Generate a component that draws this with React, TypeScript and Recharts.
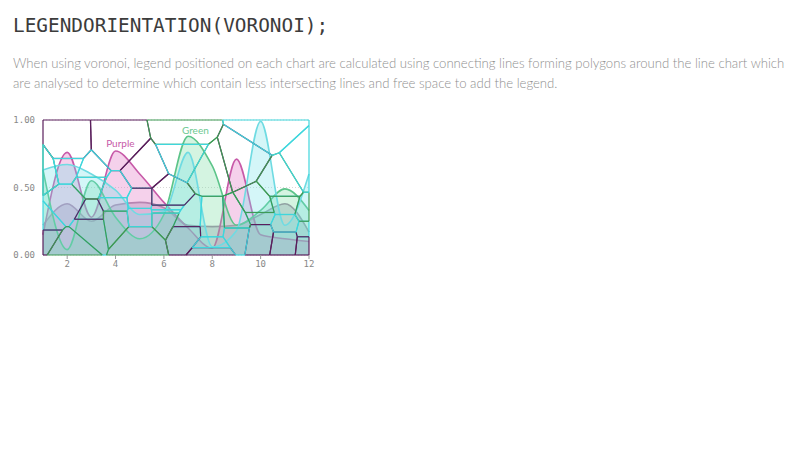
import React from 'react';
import { ComposedChart, Area, XAxis, YAxis, CartesianGrid, ReferenceLine, ReferenceDot } from 'recharts';

const xValues = [1, 2, 3, 4, 5, 6, 7, 8, 9, 10, 11, 12];
const purpleValues = [0.15, 0.76, 0.28, 0.77, 0.60, 0.39, 0.20, 0.05, 0.71, 0.15, 0.12, 0.10];
const greenValues = [0.63, 0.04, 0.55, 0.28, 0.12, 0.30, 0.88, 0.66, 0.22, 0.33, 0.49, 0.33];
const cyanValues = [0.63, 0.67, 0.60, 0.48, 0.30, 0.32, 0.76, 0.06, 0.18, 0.99, 0.22, 0.60];
const mauveValues = [0.22, 0.38, 0.25, 0.37, 0.39, 0.35, 0.22, 0.21, 0.22, 0.30, 0.38, 0.17];
const xTicks = [2, 4, 6, 8, 10, 12];
const yTicks = [0, 0.5, 1];

const series = [
  { key: 'mauve', values: mauveValues, line: '#a08aa6', fill: '#8c8aa8', fillOpacity: 0.35, edge: '#3fd6dc' },
  { key: 'purple', values: purpleValues, line: '#c75aa8', fill: '#e27cc6', fillOpacity: 0.35, edge: '#5a1f5c' },
  { key: 'green', values: greenValues, line: '#5cc489', fill: '#6fdc9c', fillOpacity: 0.3, edge: '#3e9a55' },
  { key: 'cyan', values: cyanValues, line: '#6fdbe2', fill: '#6fe0e8', fillOpacity: 0.3, edge: '#3fd6dc' },
];

const data = xValues.map((x, i) => {
  const row: any = { x };
  series.forEach((s) => { row[s.key] = s.values[i]; });
  return row;
});

// Voronoi of all data points, computed in a pixel-like aspect (x unit : y unit)
const ASPECT_X = 24.18;
const ASPECT_Y = 135;
type P = { x: number; y: number };

function clip(poly: P[], a: number, b: number, c: number): P[] {
  const out: P[] = [];
  for (let i = 0; i < poly.length; i++) {
    const p = poly[i];
    const q = poly[(i + 1) % poly.length];
    const dp = a * p.x + b * p.y - c;
    const dq = a * q.x + b * q.y - c;
    if (dp <= 0) out.push(p);
    if ((dp < 0 && dq > 0) || (dp > 0 && dq < 0)) {
      const t = dp / (dp - dq);
      out.push({ x: p.x + t * (q.x - p.x), y: p.y + t * (q.y - p.y) });
    }
  }
  return out;
}

const sites = series.flatMap((s) =>
  xValues.map((x, i) => ({ X: x * ASPECT_X, Y: s.values[i] * ASPECT_Y, color: s.edge }))
);

const edges: { a: P; b: P; color: string }[] = [];
sites.forEach((s, si) => {
  let poly: P[] = [
    { x: 1 * ASPECT_X, y: 0 },
    { x: 12 * ASPECT_X, y: 0 },
    { x: 12 * ASPECT_X, y: 1 * ASPECT_Y },
    { x: 1 * ASPECT_X, y: 1 * ASPECT_Y },
  ];
  sites.forEach((o, oi) => {
    if (oi === si) return;
    if (o.X === s.X && o.Y === s.Y) return;
    const a = 2 * (o.X - s.X);
    const b = 2 * (o.Y - s.Y);
    const c = o.X * o.X + o.Y * o.Y - s.X * s.X - s.Y * s.Y;
    poly = clip(poly, a, b, c);
  });
  for (let i = 0; i < poly.length; i++) {
    const p = poly[i];
    const q = poly[(i + 1) % poly.length];
    if (Math.abs(p.x - q.x) < 1e-6 && Math.abs(p.y - q.y) < 1e-6) continue;
    edges.push({
      a: { x: p.x / ASPECT_X, y: p.y / ASPECT_Y },
      b: { x: q.x / ASPECT_X, y: q.y / ASPECT_Y },
      color: s.color,
    });
  }
});

const legendLabels = [
  { text: 'Purple', x: 4.2, y: 0.83, color: '#c75aa8' },
  { text: 'Green', x: 7.3, y: 0.92, color: '#6cc890' },
];

const mono = '"DejaVu Sans Mono", monospace';

export default function App() {
  return (
    <div style={{ position: 'relative', width: 800, height: 450, margin: -8, background: '#fff' }}>
      <div style={{ position: 'absolute', left: 13, top: 14, fontFamily: mono, fontSize: 19.4, color: '#3c3c3c', whiteSpace: 'nowrap' }}>
        LEGENDORIENTATION(VORONOI);
      </div>
      <div style={{ position: 'absolute', left: 13, top: 53, fontFamily: 'Lato, sans-serif', fontWeight: 300, fontSize: 13.15, lineHeight: '20px', color: '#8f8f8f', whiteSpace: 'nowrap' }}>
        <div>When using voronoi, legend positioned on each chart are calculated using connecting lines forming polygons around the line chart which</div>
        <div>are analysed to determine which contain less intersecting lines and free space to add the legend.</div>
      </div>
      <div style={{ position: 'absolute', left: 0, top: 110 }}>
        <ComposedChart width={330} height={165} data={data} margin={{ top: 10, right: 21, left: 0, bottom: 0 }}>
          <CartesianGrid horizontal vertical={false} stroke="#d8d8d8" strokeDasharray="1 2" />
          <XAxis
            dataKey="x"
            type="number"
            domain={[1, 12]}
            ticks={xTicks}
            height={20}
            axisLine={false}
            tickLine={{ stroke: '#999' }}
            tickSize={4}
            tick={{ fontFamily: mono, fontSize: 9, fill: '#888' }}
          />
          <YAxis
            type="number"
            domain={[0, 1]}
            ticks={yTicks}
            width={43}
            axisLine={false}
            tickLine={false}
            tickFormatter={(v: number) => v.toFixed(2)}
            tick={{ fontFamily: mono, fontSize: 9, fill: '#888' }}
          />
          {series.map((s) => (
            <Area
              key={s.key}
              dataKey={s.key}
              type="monotone"
              stroke={s.line}
              strokeWidth={1.6}
              fill={s.fill}
              fillOpacity={s.fillOpacity}
              dot={false}
              activeDot={false}
              isAnimationActive={false}
            />
          ))}
          {edges.map((e, i) => (
            <ReferenceLine
              key={'e' + i}
              segment={[e.a, e.b]}
              stroke={e.color}
              strokeWidth={1.2}
              ifOverflow="visible"
            />
          ))}
          {legendLabels.map((l) => (
            <ReferenceDot
              key={l.text}
              x={l.x}
              y={l.y}
              r={0}
              ifOverflow="visible"
              label={{ value: l.text, fill: l.color, fontSize: 10, fontFamily: 'Lato, sans-serif', position: 'center' }}
            />
          ))}
        </ComposedChart>
      </div>
    </div>
  );
}
